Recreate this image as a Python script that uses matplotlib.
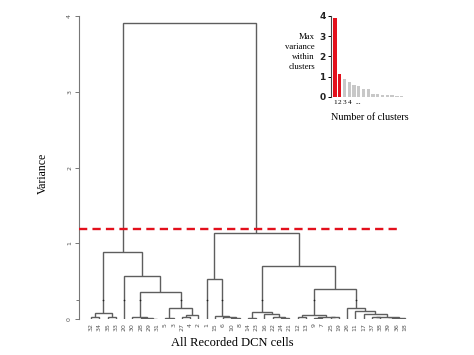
import matplotlib
matplotlib.use("Agg")
import matplotlib.pyplot as plt
import numpy as np

# ---------------- data ----------------
leaf_labels = ["32", "34", "35", "33", "20", "30", "28", "29", "31", "5", "3",
               "27", "4", "2", "1", "15", "6", "10", "8", "14", "23", "16",
               "22", "24", "21", "12", "13", "9", "7", "25", "19", "26", "11",
               "17", "37", "38", "39", "36", "18"]

# merges: (left, right, height); int >= 0 -> leaf index, negative -k -> merge k (1-based)
merges = [
    (0, 1, 0.02), (2, 3, 0.03), (-1, -2, 0.08),
    (7, 8, 0.005), (6, -4, 0.015), (5, -5, 0.03),
    (9, 10, 0.01), (11, 12, 0.02), (-8, 13, 0.05), (-7, -9, 0.15),
    (-6, -10, 0.36), (4, -11, 0.57), (-3, -12, 0.89),
    (17, 18, 0.01), (16, -14, 0.025), (15, -15, 0.04), (14, -16, 0.53),
    (19, 20, 0.01), (23, 24, 0.01), (22, -19, 0.02), (21, -20, 0.06),
    (-18, -21, 0.09),
    (25, 26, 0.02), (27, 28, 0.01), (29, 30, 0.02), (-24, -25, 0.03),
    (-23, -26, 0.05),
    (36, 37, 0.005), (-28, 38, 0.01), (34, 35, 0.02), (-30, -29, 0.03),
    (33, -31, 0.06), (32, -32, 0.1), (31, -33, 0.15),
    (-27, -34, 0.4), (-22, -35, 0.7), (-17, -36, 1.135), (-13, -37, 3.91),
]

cut_height = 1.19
mark_height = 0.25

max_variance = [3.9, 1.13, 0.88, 0.72, 0.57, 0.55, 0.39, 0.37, 0.15, 0.13,
                0.12, 0.10, 0.08, 0.07, 0.05]
n_red = 2

# ---------------- figure ----------------
W, H = 474, 355
fig = plt.figure(figsize=(W / 100, H / 100), dpi=100)
serif = ["Liberation Serif", "DejaVu Serif"]

ax = fig.add_axes([79 / W, 36 / H, (410 - 79) / W, 303 / H])

line_col = "#5e5e5e"
pos = {}
hgt = {}


def node_xy(ref):
    if ref >= 0:
        return float(ref), 0.0
    return pos[-ref], hgt[-ref]


for k, (a, b, h) in enumerate(merges, start=1):
    xa, ha = node_xy(a)
    xb, hb = node_xy(b)
    ax.plot([xa, xa, xb, xb], [ha, h, h, hb], color=line_col, lw=1.0,
            solid_joinstyle="miter", solid_capstyle="butt")
    for xc, hc in ((xa, ha), (xb, hb)):
        if hc < mark_height < h:
            ax.plot(xc, mark_height, "o", ms=1.2, color="#222222", mew=0)
    pos[k] = (xa + xb) / 2
    hgt[k] = h

n = len(leaf_labels)
x_left = (79 - 91) / 8.26
x_right = (410 - 91) / 8.26
ax.set_xlim(x_left, x_right)
ax.set_ylim(0, 4)

ax.hlines(cut_height, x_left, (400 - 91) / 8.26, colors="#e3101c", lw=1.7,
          linestyles=(0, (3.5, 2.2)), zorder=5)

for s in ("top", "right", "bottom"):
    ax.spines[s].set_visible(False)
ax.spines["left"].set_color("#777777")
ax.spines["left"].set_linewidth(0.8)
ax.set_yticks([0, 1, 2, 3, 4])
ax.set_yticklabels(["0", "1", "2", "3", "4"], rotation=90, fontsize=4.5,
                   color="#555555", va="center")
ax.set_yticks([mark_height], minor=True)
ax.tick_params(axis="y", which="major", length=3, width=0.7, color="#777777", pad=2)
ax.tick_params(axis="y", which="minor", length=2, width=0.7, color="#777777")
ax.set_xticks(np.arange(n))
ax.set_xticklabels(leaf_labels, rotation=90, fontsize=4.5, color="#555555")
ax.tick_params(axis="x", length=0, pad=3)

fig.text(43 / W, 1 - 173 / H, "Variance", rotation=90, ha="center",
         va="center", fontsize=8.5, family=serif)
fig.text(232 / W, 1 - 343 / H, "All Recorded DCN cells", ha="center",
         va="center", fontsize=9, family=serif)

# ---------------- inset ----------------
ax2 = fig.add_axes([331 / W, (H - 97) / H, 79 / W, 81.3 / H])
xs = np.arange(1, len(max_variance) + 1)
cols = ["#e3101c" if i < n_red else "#c8c8c8" for i in range(len(max_variance))]
ax2.bar(xs, max_variance, width=0.7, color=cols)
ax2.set_xlim(0.16, 16.76)
ax2.set_ylim(0, 4)
for s in ("top", "right", "bottom"):
    ax2.spines[s].set_visible(False)
ax2.spines["left"].set_color("#444444")
ax2.spines["left"].set_linewidth(0.8)
ax2.set_yticks([0, 1, 2, 3, 4])
ax2.set_yticklabels(["0", "1", "2", "3", "4"], fontsize=6.5,
                    fontweight="bold", color="#222222")
ax2.tick_params(axis="y", length=2.5, width=0.7, pad=1.5)
ax2.set_xticks([1, 2, 3, 4])
ax2.set_xticklabels(["1", "2", "3", "4"], fontsize=5.3, family=serif)
ax2.tick_params(axis="x", length=0, pad=2)
ax2.text(6.0, -0.36, "...", fontsize=5.5, family=serif, ha="center",
         va="baseline")

fig.text(315 / W, 1 - 52 / H, "Max\nvariance\nwithin\nclusters", ha="right",
         va="center", fontsize=6.3, family=serif, linespacing=1.3)
fig.text(370 / W, 1 - 117 / H, "Number of clusters", ha="center",
         va="center", fontsize=7.3, family=serif)

fig.savefig("out.png", dpi=100)
